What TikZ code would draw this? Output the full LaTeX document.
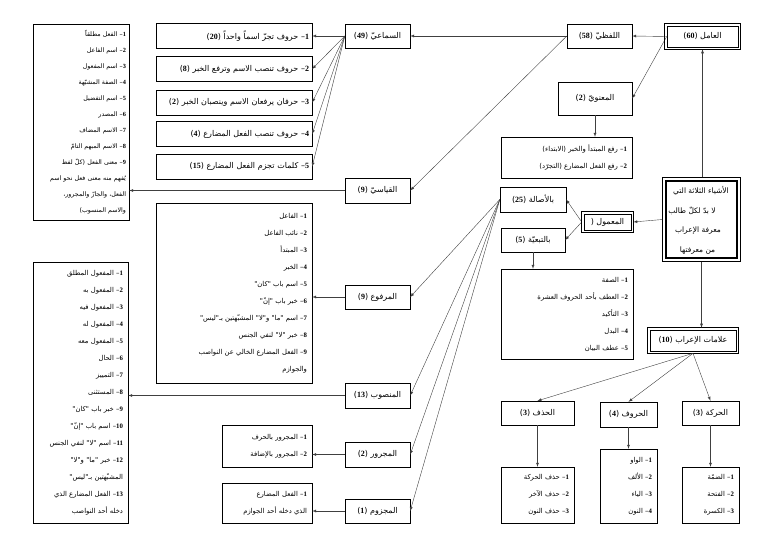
\documentclass[tikz,border=0pt]{standalone}
\usepackage{fontspec}
\setmainfont{Liberation Serif}
\newfontfamily\arabicfont[Script=Arabic]{DejaVu Sans}
\TeXXeTstate=1
\usepackage{tikz}
\usetikzlibrary{calc}
\newcommand\arline[1]{\beginR #1\endR}
\newcommand\nb[1]{{\rmfamily\bfseries #1}}
\newcommand\cnt[1]{(\nb{#1})}
\tikzset{my arrow/.style={
  black!75,
  -latex
  }
}
\tikzset{box/.style={draw, inner sep=2pt, font=\arabicfont\fontsize{8}{9}\selectfont},
  framed/.style={box, line width=0.6pt},
  list/.style={draw, align=right, inner xsep=5pt, inner ysep=0pt, font=\arabicfont\fontsize{6.8}{17}\selectfont}
}

\begin{document}
\begin{tikzpicture}[x=1pt,y=-1pt]
    \useasboundingbox (0,0) rectangle (768,543);

    % top row
    \node[framed,minimum width=71pt,minimum height=21pt] (amil) at (702.5,36.5) {\arline{العامل \cnt{60}}};
    \node[box,minimum width=65pt,minimum height=24pt] (lafzi) at (599.5,36) {\arline{اللفظيّ \cnt{58}}};
    \node[box,minimum width=74pt,minimum height=33pt] (manawi) at (595,98.5) {\arline{المعنويّ \cnt{2}}};
    \node[list,text width=121pt,minimum height=41pt] (manawiL) at (566.5,157.5) {\arline{\nb{1}– رفع المبتدأ والخبر (الابتداء)}\\ \arline{\nb{2}– رفع الفعل المضارع (التجرّد)}};
    \node[box,minimum width=65pt,minimum height=24pt] (samai) at (377.5,36) {\arline{السماعيّ \cnt{49}}};

    \foreach \y/\txt [count=\n] in {36/{حروف تجرّ اسماً واحداً \cnt{20}},69/{حروف تنصب الاسم وترفع الخبر \cnt{8}},102.5/{حرفان يرفعان الاسم وينصبان الخبر \cnt{2}},134/{حروف تنصب الفعل المضارع \cnt{4}},166.5/{كلمات تجزم الفعل المضارع \cnt{15}}}
        \node[box,text width=150pt,align=right,inner xsep=3pt,minimum height=25pt] (S\n) at (234,\y) {\arline{\nb{\n}– \txt}};

    \draw[my arrow] (amil.west) -- (lafzi.east);
    \draw[my arrow] (amil.west) -- (manawi.east);
    \draw[my arrow] (manawi.south) -- (manawi.south |- manawiL.north);
    \draw[my arrow] (lafzi.west) -- (samai.east);
    \foreach \n in {1,...,5}
        \draw[my arrow] (samai.west) -- (S\n.east);

    % left column
    \node[box,minimum width=65pt,minimum height=25pt] (qiyasi) at (377.5,190.5) {\arline{القياسيّ \cnt{9}}};
    \node[list,text width=90pt,inner xsep=3pt,minimum height=196pt,font=\arabicfont\fontsize{6.3}{16}\selectfont] (qiyasiL) at (81,122) {\arline{\nb{1}– الفعل مطلقاً}\\ \arline{\nb{2}– اسم الفاعل}\\ \arline{\nb{3}– اسم المفعول}\\ \arline{\nb{4}– الصفة المشبّهة}\\ \arline{\nb{5}– اسم التفضيل}\\ \arline{\nb{6}– المصدر}\\ \arline{\nb{7}– الاسم المضاف}\\ \arline{\nb{8}– الاسم المبهم التامّ}\\ \arline{\nb{9}– معنى الفعل (كلّ لفظ}\\ \arline{يُفهم منه معنى فعل نحو اسم}\\ \arline{الفعل، والجارّ والمجرور،}\\ \arline{والاسم المنسوب)}};
    \node[box,minimum width=65pt,minimum height=24pt] (marfu) at (377.5,297) {\arline{المرفوع \cnt{9}}};
    \node[list,text width=146pt,minimum height=180pt] (marfuL) at (234,293) {\arline{\nb{1}– الفاعل}\\ \arline{\nb{2}– نائب الفاعل}\\ \arline{\nb{3}– المبتدأ}\\ \arline{\nb{4}– الخبر}\\ \arline{\nb{5}– اسم باب "كان"}\\ \arline{\nb{6}– خبر باب "إنّ"}\\ \arline{\nb{7}– اسم "ما" و"لا" المشبّهتين بـ"ليس"}\\ \arline{\nb{8}– خبر "لا" لنفي الجنس}\\ \arline{\nb{9}– الفعل المضارع الخالي عن النواصب}\\ \arline{والجوازم}};
    \node[box,minimum width=65pt,minimum height=25pt] (mansub) at (377.5,395.5) {\arline{المنصوب \cnt{13}}};
    \node[list,text width=85pt,minimum height=261pt] (mansubL) at (80.5,392.5) {\arline{\nb{1}– المفعول المطلق}\\ \arline{\nb{2}– المفعول به}\\ \arline{\nb{3}– المفعول فيه}\\ \arline{\nb{4}– المفعول له}\\ \arline{\nb{5}– المفعول معه}\\ \arline{\nb{6}– الحال}\\ \arline{\nb{7}– التمييز}\\ \arline{\nb{8}– المستثنى}\\ \arline{\nb{9}– خبر باب "كان"}\\ \arline{\nb{10}– اسم باب "إنّ"}\\ \arline{\nb{11}– اسم "لا" لنفي الجنس}\\ \arline{\nb{12}– خبر "ما" و"لا"}\\ \arline{المشبّهتين بـ"ليس"}\\ \arline{\nb{13}– الفعل المضارع الذي}\\ \arline{دخله أحد النواصب}};
    \node[box,minimum width=65pt,minimum height=25pt] (majrur) at (377.5,454.5) {\arline{المجرور \cnt{2}}};
    \node[list,text width=80pt,minimum height=42pt] (majrurL) at (267,446) {\arline{\nb{1}– المجرور بالحرف}\\ \arline{\nb{2}– المجرور بالإضافة}};
    \node[box,minimum width=65pt,minimum height=24pt] (majzum) at (377.5,511) {\arline{المجزوم \cnt{1}}};
    \node[list,text width=80pt,minimum height=40pt] (majzumL) at (267,503) {\arline{\nb{1}– الفعل المضارع}\\ \arline{الذي دخله أحد الجوازم}};

    \draw[my arrow] (lafzi.west) -- (qiyasi.east);
    \draw[my arrow] (qiyasi.west) -- (qiyasi.west -| qiyasiL.east);
    \draw[my arrow] (marfu.west) -- (marfu.west -| marfuL.east);
    \draw[my arrow] (mansub.west) -- (mansub.west -| mansubL.east);
    \draw[my arrow] (majrur.west) -- (majrur.west -| majrurL.east);
    \draw[my arrow] (majzum.west) -- (majzum.west -| majzumL.east);

    % middle
    \node[draw,line width=1.2pt,minimum width=71pt,minimum height=77pt] (ashya) at (701.5,219.5) {};
    \draw[line width=1.4pt] ($(ashya.north west)+(-3,-3)$) rectangle ($(ashya.south east)+(3,3)$);
    \foreach \x/\y/\txt [count=\n] in {701/191/{الأشياء الثلاثة التي},692/211/{لا بدّ لكلّ طالب},698/231/{معرفة الإعراب},697.5/251/{من معرفتها}}
        \node[font=\arabicfont\fontsize{7.5}{9}\selectfont,inner sep=0pt] (ashya\n) at (\x,\y) {\arline{\txt}};
    \node[framed,minimum width=47pt,minimum height=16pt] (mamul) at (607.5,222) {\arline{المعمول (}};
    \node[box,minimum width=66pt,minimum height=25pt] (asala) at (533,199.5) {\arline{بالأصالة \cnt{25}}};
    \node[box,minimum width=64pt,minimum height=24pt] (tabaiya) at (533,240) {\arline{بالتبعيّة \cnt{5}}};
    \node[list,text width=122pt,minimum height=90pt] (tabaiyaL) at (567,314) {\arline{\nb{1}– الصفة}\\ \arline{\nb{2}– العطف بأحد الحروف العشرة}\\ \arline{\nb{3}– التأكيد}\\ \arline{\nb{4}– البدل}\\ \arline{\nb{5}– عطف البيان}};

    \draw[my arrow] ($(ashya.north -| amil.south)+(0,-3)$) -- ($(amil.south)+(0,2)$);
    \draw[my arrow] ($(ashya.west)+(-3,0)$) -- ($(mamul.east)+(2,0)$);
    \draw[my arrow] ($(mamul.west)+(-2,0)$) -- (asala.east);
    \draw[my arrow] ($(mamul.west)+(-2,0)$) -- (tabaiya.east);
    \draw[my arrow] (tabaiya.south) -- (tabaiya.south |- tabaiyaL.north);
    \foreach \b in {marfu,mansub,majrur,majzum}
        \draw[my arrow] (asala.west) -- (\b.east);

    % bottom right
    \node[framed,minimum width=86pt,minimum height=21pt] (alamat) at (693,340.5) {\arline{علامات الإعراب \cnt{10}}};
    \node[box,minimum width=57pt,minimum height=24pt] (haraka) at (710.5,413) {\arline{الحركة \cnt{3}}};
    \node[box,minimum width=57pt,minimum height=25pt] (huruf) at (628.5,414.5) {\arline{الحروف \cnt{4}}};
    \node[box,minimum width=73pt,minimum height=24pt] (hadhf) at (537.5,413) {\arline{الحذف \cnt{3}}};
    \node[list,text width=47pt,minimum height=56pt] (harakaL) at (710.5,495) {\arline{\nb{1}– الضمّة}\\ \arline{\nb{2}– الفتحة}\\ \arline{\nb{3}– الكسرة}};
    \node[list,text width=47pt,minimum height=74pt] (hurufL) at (628.5,486) {\arline{\nb{1}– الواو}\\ \arline{\nb{2}– الألف}\\ \arline{\nb{3}– الياء}\\ \arline{\nb{4}– النون}};
    \node[list,text width=63pt,minimum height=56pt] (hadhfL) at (537.5,495) {\arline{\nb{1}– حذف الحركة}\\ \arline{\nb{2}– حذف الآخر}\\ \arline{\nb{3}– حذف النون}};

    % outer frames of the double boxes
    \foreach \f in {amil,mamul,alamat}
        \draw[line width=0.6pt] ($(\f.north west)+(-2,-2)$) rectangle ($(\f.south east)+(2,2)$);

    \draw[my arrow] ($(ashya.south)+(0,3)$) -- ($(ashya.south |- alamat.north)+(0,-2)$);
    \foreach \h/\l in {haraka/harakaL,huruf/hurufL,hadhf/hadhfL} {
        \draw[my arrow] ($(alamat.south)+(0,2)$) -- (\h.north);
        \draw[my arrow] (\h.south) -- (\l.north);
    }
\end{tikzpicture}
\end{document}
